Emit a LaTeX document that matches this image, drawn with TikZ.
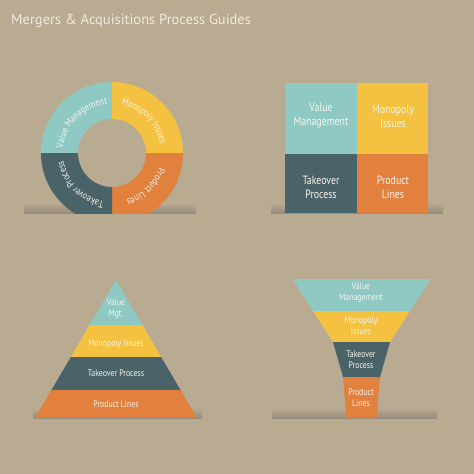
\documentclass[tikz,border=0pt]{standalone}
\usepackage{fontspec}
\setmainfont{PT Sans}
\newfontfamily\labelfont[FakeStretch=0.82]{PT Sans}
\usetikzlibrary{decorations.text}

\definecolor{bg}{RGB}{185,170,146}
\definecolor{shelfgray}{RGB}{150,140,124}
\definecolor{vteal}{RGB}{142,201,196}
\definecolor{vyellow}{RGB}{244,194,64}
\definecolor{vslate}{RGB}{74,99,104}
\definecolor{vorange}{RGB}{226,128,62}
\definecolor{lblwhite}{RGB}{248,244,236}
\definecolor{titlewhite}{RGB}{240,235,224}

\newcommand{\ringfont}{\color{lblwhite}\labelfont\fontsize{10}{11}\selectfont}

\tikzset{
  shelf/.style={top color=bg, bottom color=shelfgray},
  lbl/.style={font=\labelfont\fontsize{9.5}{11}\selectfont, text=lblwhite, align=center, inner sep=0pt},
  biglbl/.style={lbl, font=\labelfont\fontsize{12}{14}\selectfont},
  ringtext/.style={decorate, decoration={text along path, text align=center, text={|\ringfont|#1}}}
}

\begin{document}
\begin{tikzpicture}[x=1pt,y=-1pt]
    \fill[bg] (0,0) rectangle (474,474);
    \useasboundingbox (0,0) rectangle (474,474);

    \node[anchor=west, inner sep=0pt, text=titlewhite, font=\fontsize{14.5}{16}\selectfont] (title) at (11,21) {Mergers \& Acquisitions Process Guides};

    % shelves
    \shade[shelf] (24,203) rectangle (196,213);
    \shade[shelf] (271,203) rectangle (443,213);
    \shade[shelf] (33,408) rectangle (202,418);
    \shade[shelf] (272,408) rectangle (437,418);

    % ring
    \begin{scope}[shift={(112,153)},y=1pt]
      \clip (-80,-60) rectangle (80,80);
      \foreach \a/\c in {90/vteal,0/vyellow,-90/vorange,-180/vslate}
        \fill[\c] (\a:34) -- (\a:71) arc[start angle=\a,end angle=\a+90,radius=71]
          -- (\a+90:34) arc[start angle=\a+90,end angle=\a,radius=34] -- cycle;
      \path[ringtext={Value Management}] (179:49) arc[start angle=179,end angle=91,radius=49];
      \path[ringtext={Monopoly Issues}] (89:49) arc[start angle=89,end angle=1,radius=49];
      \path[ringtext={Product Lines}] (-1:49) arc[start angle=-1,end angle=-89,radius=49];
      \path[ringtext={Takeover Process}] (-91:49) arc[start angle=-91,end angle=-179,radius=49];
    \end{scope}

    % square
    \fill[vteal] (285,83) rectangle (357,154);
    \fill[vyellow] (357,83) rectangle (428,154);
    \fill[vslate] (285,154) rectangle (357,213);
    \fill[vorange] (357,154) rectangle (428,213);
    \node[biglbl] (sqval) at (321,116) {Value\\Management};
    \node[biglbl] (sqmon) at (393,116) {Monopoly\\Issues};
    \node[biglbl] (sqtak) at (321,187) {Takeover\\Process};
    \node[biglbl] (sqpro) at (393,187) {Product\\Lines};

    % pyramid
    \begin{scope}
      \clip (116,280) -- (197,418) -- (35,418) -- cycle;
      \fill[vteal] (30,275) rectangle (200,325);
      \fill[vyellow] (30,325) rectangle (200,357);
      \fill[vslate] (30,357) rectangle (200,390);
      \fill[vorange] (30,390) rectangle (200,418);
    \end{scope}
    \node[lbl] (pyval) at (116,309) {Value\\Mgt.};
    \node[lbl] (pymon) at (116,344) {Monopoly Issues};
    \node[lbl] (pytak) at (116,373) {Takeover Process};
    \node[lbl] (pypro) at (116,404) {Product Lines};

    % funnel
    \fill[vteal] (292.5,279) -- (430.5,279) -- (410,311) -- (313,311) -- cycle;
    \fill[vyellow] (313,311) -- (410,311) -- (390,342) -- (333,342) -- cycle;
    \fill[vslate] (333,342) -- (390,342) -- (380,377) -- (343,377) -- cycle;
    \fill[vorange] (343,377) -- (380,377) -- (376.5,418) -- (346.5,418) -- cycle;
    \node[lbl] (fnval) at (361,292.5) {Value\\Management};
    \node[lbl] (fnmon) at (361,326) {Monopoly\\Issues};
    \node[lbl] (fntak) at (361,359.5) {Takeover\\Process};
    \node[lbl] (fnpro) at (361,397.5) {Product\\Lines};
\end{tikzpicture}
\end{document}
